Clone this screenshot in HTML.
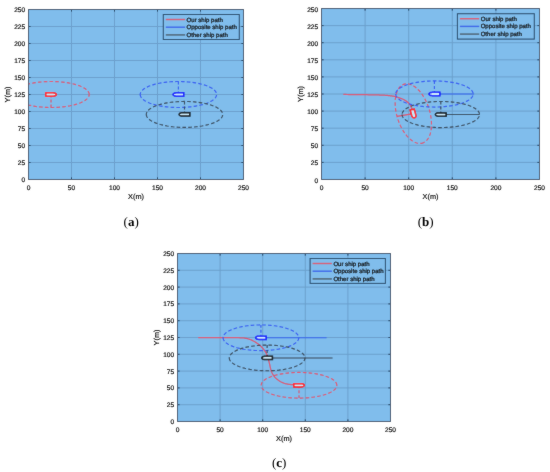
<!DOCTYPE html>
<html><head><meta charset="utf-8"><title>Ship paths</title>
<style>
html,body{margin:0;padding:0;background:#fff;}
body{width:550px;height:472px;overflow:hidden;}
svg{display:block;}
text{text-rendering:geometricPrecision;}
.tk{font-family:"Liberation Sans",Arial,sans-serif;font-size:6.6px;fill:#141414;stroke:#141414;stroke-width:0.2px;}
.lb{font-family:"Liberation Sans",Arial,sans-serif;font-size:7.3px;fill:#141414;stroke:#141414;stroke-width:0.2px;}
.lg{font-family:"Liberation Sans",Arial,sans-serif;font-size:6.0px;fill:#0d0d0d;stroke:#0d0d0d;stroke-width:0.2px;}
.cap{font-family:"Liberation Serif","Times New Roman",serif;font-size:13px;fill:#000;}
</style></head>
<body>
<svg width="550" height="472" viewBox="0 0 550 472">
<rect width="550" height="472" fill="#fff"/>
<defs>
<clipPath id="clipa"><rect x="28.5" y="9.5" width="215" height="170"/></clipPath>
<clipPath id="clipb"><rect x="321.5" y="8.5" width="218" height="171"/></clipPath>
<clipPath id="clipc"><rect x="177.5" y="253.5" width="213" height="168"/></clipPath>
<filter id="soft" x="0" y="0" width="550" height="472" filterUnits="userSpaceOnUse"><feConvolveMatrix order="3" kernelMatrix="1 2 1 2 28.0 2 1 2 1" divisor="40.0" edgeMode="duplicate" preserveAlpha="true"/></filter>
<filter id="softt" x="0" y="0" width="550" height="472" filterUnits="userSpaceOnUse"><feConvolveMatrix order="3" kernelMatrix="1 2 1 2 40.0 2 1 2 1" divisor="52.0" edgeMode="duplicate" preserveAlpha="false"/></filter>
</defs>
<g filter="url(#soft)">
<rect width="550" height="472" fill="#fff"/>
<rect x="28.5" y="9.5" width="215" height="170" fill="#80bdec"/>
<path d="M71.5 9.5V179.5M114.5 9.5V179.5M157.5 9.5V179.5M200.5 9.5V179.5M28.5 162.5H243.5M28.5 145.5H243.5M28.5 128.5H243.5M28.5 111.5H243.5M28.5 94.5H243.5M28.5 77.5H243.5M28.5 60.5H243.5M28.5 43.5H243.5M28.5 26.5H243.5" stroke="#6a9fcc" stroke-width="1" fill="none"/>
<rect x="321.5" y="8.5" width="218" height="171" fill="#80bdec"/>
<path d="M365.1 8.5V179.5M408.7 8.5V179.5M452.3 8.5V179.5M495.9 8.5V179.5M321.5 162.4H539.5M321.5 145.3H539.5M321.5 128.2H539.5M321.5 111.1H539.5M321.5 94H539.5M321.5 76.9H539.5M321.5 59.8H539.5M321.5 42.7H539.5M321.5 25.6H539.5" stroke="#6a9fcc" stroke-width="1" fill="none"/>
<rect x="177.5" y="253.5" width="213" height="168" fill="#80bdec"/>
<path d="M220.1 253.5V421.5M262.7 253.5V421.5M305.3 253.5V421.5M347.9 253.5V421.5M177.5 404.7H390.5M177.5 387.9H390.5M177.5 371.1H390.5M177.5 354.3H390.5M177.5 337.5H390.5M177.5 320.7H390.5M177.5 303.9H390.5M177.5 287.1H390.5M177.5 270.3H390.5" stroke="#6a9fcc" stroke-width="1" fill="none"/>
<path clip-path="url(#clipa)" d="M89.22 94.5L89.16 93.82L89.01 93.14L88.75 92.47L88.38 91.8L87.91 91.14L87.35 90.49L86.68 89.85L85.91 89.22L85.05 88.6L84.1 88.01L83.06 87.43L81.92 86.87L80.71 86.33L79.41 85.81L78.03 85.32L76.58 84.85L75.06 84.41L73.48 83.99L71.83 83.61L70.12 83.25L68.37 82.93L66.56 82.63L64.72 82.37L62.83 82.15L60.91 81.95L58.97 81.8L57.01 81.67L55.02 81.58L53.03 81.53L51.03 81.51L49.03 81.53L47.04 81.58L45.06 81.67L43.09 81.8L41.15 81.95L39.23 82.15L37.35 82.37L35.5 82.63L33.7 82.93L31.94 83.25L30.24 83.61L28.59 83.99L27 84.41L25.48 84.85L24.03 85.32L22.66 85.81L21.36 86.33L20.14 86.87L19.01 87.43L17.96 88.01L17.01 88.6L16.15 89.22L15.38 89.85L14.72 90.49L14.15 91.14L13.68 91.8L13.32 92.47L13.06 93.14L12.9 93.82L12.85 94.5L12.9 95.18L13.06 95.86L13.32 96.53L13.68 97.2L14.15 97.86L14.72 98.51L15.38 99.15L16.15 99.78L17.01 100.4L17.96 100.99L19.01 101.57L20.14 102.13L21.36 102.67L22.66 103.19L24.03 103.68L25.48 104.15L27 104.59L28.59 105.01L30.24 105.39L31.94 105.75L33.7 106.07L35.5 106.37L37.35 106.63L39.23 106.85L41.15 107.05L43.09 107.2L45.06 107.33L47.04 107.42L49.03 107.47L51.03 107.49L53.03 107.47L55.02 107.42L57.01 107.33L58.97 107.2L60.91 107.05L62.83 106.85L64.72 106.63L66.56 106.37L68.37 106.07L70.12 105.75L71.83 105.39L73.48 105.01L75.06 104.59L76.58 104.15L78.03 103.68L79.41 103.19L80.71 102.67L81.92 102.13L83.06 101.57L84.1 100.99L85.05 100.4L85.91 99.78L86.68 99.15L87.35 98.51L87.91 97.86L88.38 97.2L88.75 96.53L89.01 95.86L89.16 95.18L89.22 94.5Z" fill="none" stroke="#e04a62" stroke-width="1.15" stroke-dasharray="3.6 2.2"/>
<path d="M51.03 94.5L51.03 107.49" stroke="#e04a62" stroke-width="1.15" stroke-dasharray="3 2"/>
<path d="M45.7 96.13L53.27 96.13L53.81 96.1L54.3 96.04L54.74 95.95L55.13 95.83L55.46 95.68L55.74 95.51L55.98 95.3L56.16 95.06L56.29 94.8L56.36 94.5L56.29 94.2L56.16 93.94L55.98 93.7L55.74 93.49L55.46 93.32L55.13 93.17L54.74 93.05L54.3 92.96L53.81 92.9L53.27 92.87L45.7 92.87Z" fill="#c8e8fa" stroke="#ff0000" stroke-width="1.5" stroke-linejoin="miter"/>
<path clip-path="url(#clipa)" d="M140.21 94.5L140.27 95.18L140.42 95.86L140.68 96.53L141.05 97.2L141.52 97.86L142.08 98.51L142.75 99.15L143.52 99.78L144.38 100.4L145.33 100.99L146.37 101.57L147.51 102.13L148.72 102.67L150.02 103.19L151.4 103.68L152.85 104.15L154.37 104.59L155.95 105.01L157.6 105.39L159.31 105.75L161.06 106.07L162.87 106.37L164.71 106.63L166.6 106.85L168.52 107.05L170.46 107.2L172.42 107.33L174.41 107.42L176.4 107.47L178.4 107.49L180.4 107.47L182.39 107.42L184.37 107.33L186.34 107.2L188.28 107.05L190.2 106.85L192.08 106.63L193.93 106.37L195.73 106.07L197.49 105.75L199.19 105.39L200.84 105.01L202.43 104.59L203.95 104.15L205.4 103.68L206.77 103.19L208.07 102.67L209.29 102.13L210.42 101.57L211.47 100.99L212.42 100.4L213.28 99.78L214.05 99.15L214.71 98.51L215.28 97.86L215.75 97.2L216.11 96.53L216.37 95.86L216.53 95.18L216.58 94.5L216.53 93.82L216.37 93.14L216.11 92.47L215.75 91.8L215.28 91.14L214.71 90.49L214.05 89.85L213.28 89.22L212.42 88.6L211.47 88.01L210.42 87.43L209.29 86.87L208.07 86.33L206.77 85.81L205.4 85.32L203.95 84.85L202.43 84.41L200.84 83.99L199.19 83.61L197.49 83.25L195.73 82.93L193.93 82.63L192.08 82.37L190.2 82.15L188.28 81.95L186.34 81.8L184.37 81.67L182.39 81.58L180.4 81.53L178.4 81.51L176.4 81.53L174.41 81.58L172.42 81.67L170.46 81.8L168.52 81.95L166.6 82.15L164.71 82.37L162.87 82.63L161.06 82.93L159.31 83.25L157.6 83.61L155.95 83.99L154.37 84.41L152.85 84.85L151.4 85.32L150.02 85.81L148.72 86.33L147.51 86.87L146.37 87.43L145.33 88.01L144.38 88.6L143.52 89.22L142.75 89.85L142.08 90.49L141.52 91.14L141.05 91.8L140.68 92.47L140.42 93.14L140.27 93.82L140.21 94.5Z" fill="none" stroke="#3055f2" stroke-width="1.15" stroke-dasharray="3.6 2.2"/>
<path d="M178.4 94.5L178.4 81.51" stroke="#3055f2" stroke-width="1.15" stroke-dasharray="3 2"/>
<path d="M183.73 92.87L176.16 92.87L175.62 92.9L175.13 92.96L174.69 93.05L174.3 93.17L173.97 93.32L173.69 93.49L173.45 93.7L173.27 93.94L173.14 94.2L173.07 94.5L173.14 94.8L173.27 95.06L173.45 95.3L173.69 95.51L173.97 95.68L174.3 95.83L174.69 95.95L175.13 96.04L175.62 96.1L176.16 96.13L183.73 96.13Z" fill="#c8e8fa" stroke="#0000ff" stroke-width="1.5" stroke-linejoin="miter"/>
<path clip-path="url(#clipa)" d="M146.32 114.42L146.37 115.1L146.53 115.78L146.79 116.46L147.15 117.12L147.62 117.79L148.19 118.44L148.86 119.08L149.62 119.71L150.48 120.32L151.44 120.92L152.48 121.5L153.61 122.06L154.83 122.6L156.13 123.11L157.5 123.61L158.95 124.08L160.47 124.52L162.06 124.93L163.71 125.32L165.41 125.67L167.17 126L168.97 126.29L170.82 126.55L172.7 126.78L174.62 126.97L176.57 127.13L178.53 127.25L180.51 127.34L182.51 127.39L184.5 127.41L186.5 127.39L188.5 127.34L190.48 127.25L192.44 127.13L194.39 126.97L196.3 126.78L198.19 126.55L200.03 126.29L201.84 126L203.6 125.67L205.3 125.32L206.95 124.93L208.53 124.52L210.05 124.08L211.5 123.61L212.88 123.11L214.18 122.6L215.4 122.06L216.53 121.5L217.57 120.92L218.53 120.32L219.39 119.71L220.15 119.08L220.82 118.44L221.39 117.79L221.85 117.12L222.22 116.46L222.48 115.78L222.64 115.1L222.69 114.42L222.64 113.74L222.48 113.07L222.22 112.39L221.85 111.72L221.39 111.06L220.82 110.41L220.15 109.77L219.39 109.14L218.53 108.53L217.57 107.93L216.53 107.35L215.4 106.79L214.18 106.25L212.88 105.73L211.5 105.24L210.05 104.77L208.53 104.33L206.95 103.92L205.3 103.53L203.6 103.18L201.84 102.85L200.03 102.56L198.19 102.3L196.3 102.07L194.39 101.88L192.44 101.72L190.48 101.6L188.5 101.51L186.5 101.45L184.5 101.44L182.51 101.45L180.51 101.51L178.53 101.6L176.57 101.72L174.62 101.88L172.7 102.07L170.82 102.3L168.97 102.56L167.17 102.85L165.41 103.18L163.71 103.53L162.06 103.92L160.47 104.33L158.95 104.77L157.5 105.24L156.13 105.73L154.83 106.25L153.61 106.79L152.48 107.35L151.44 107.93L150.48 108.53L149.62 109.14L148.86 109.77L148.19 110.41L147.62 111.06L147.15 111.72L146.79 112.39L146.53 113.07L146.37 113.74L146.32 114.42Z" fill="none" stroke="#34404e" stroke-width="1.15" stroke-dasharray="3.6 2.2"/>
<path d="M184.5 114.42L184.5 101.44" stroke="#34404e" stroke-width="1.15" stroke-dasharray="3 2"/>
<path d="M189.84 112.79L182.27 112.79L181.73 112.82L181.24 112.88L180.8 112.97L180.41 113.09L180.07 113.24L179.79 113.42L179.56 113.63L179.38 113.86L179.25 114.13L179.17 114.42L179.25 114.72L179.38 114.99L179.56 115.22L179.79 115.43L180.07 115.61L180.41 115.76L180.8 115.87L181.24 115.96L181.73 116.02L182.27 116.06L189.84 116.06Z" fill="#c8e8fa" stroke="#000000" stroke-width="1.5" stroke-linejoin="miter"/>
<path d="M343.3 94.48L344.33 94.49L345.64 94.49L347.19 94.5L348.93 94.51L350.82 94.52L352.8 94.53L354.82 94.55L356.86 94.57L358.84 94.59L360.74 94.62L362.65 94.65L364.68 94.68L366.79 94.72L368.93 94.76L371.06 94.81L373.14 94.85L375.11 94.9L376.95 94.94L378.59 94.99L380.01 95.03L381.18 95.06L382.14 95.09L382.92 95.13L383.57 95.15L384.11 95.18L384.58 95.21L385.02 95.25L385.45 95.28L385.92 95.32L386.46 95.37L387.05 95.42L387.62 95.47L388.19 95.53L388.74 95.59L389.28 95.65L389.81 95.72L390.33 95.79L390.83 95.85L391.31 95.92L391.78 95.98L392.23 96.05L392.66 96.11L393.06 96.16L393.45 96.22L393.83 96.28L394.2 96.35L394.57 96.41L394.94 96.49L395.32 96.57L395.71 96.67L396.1 96.77L396.49 96.88L396.88 97L397.27 97.13L397.66 97.26L398.06 97.4L398.45 97.54L398.84 97.68L399.24 97.82L399.63 97.97L400.03 98.11L400.44 98.26L400.86 98.41L401.27 98.56L401.69 98.71L402.1 98.87L402.5 99.03L402.89 99.2L403.28 99.37L403.64 99.54L403.99 99.72L404.33 99.9L404.66 100.09L404.98 100.27L405.29 100.47L405.6 100.67L405.9 100.87L406.2 101.08L406.49 101.3L406.78 101.52L407.07 101.76L407.36 101.99L407.65 102.24L407.93 102.49L408.21 102.74L408.48 103L408.75 103.27L409 103.55L409.25 103.83L409.48 104.12L409.71 104.41L409.92 104.69L410.12 104.97L410.31 105.25L410.49 105.54L410.67 105.85L410.85 106.18L411.03 106.55L411.21 106.96L411.4 107.41L411.6 107.94L411.82 108.56L412.04 109.25L412.26 109.98L412.48 110.72L412.69 111.45L412.89 112.13L413.06 112.74L413.21 113.25L413.32 113.63" fill="none" stroke="#d9506a" stroke-width="1.25" stroke-linejoin="round"/>
<path d="M434.42 94L474.1 94" fill="none" stroke="#2f5cf0" stroke-width="1.1"/>
<path d="M440.79 114.52L479.77 114.52" fill="none" stroke="#34404c" stroke-width="1.1"/>
<path clip-path="url(#clipb)" d="M421.37 143.34L422.21 143.15L423.03 142.89L423.82 142.55L424.58 142.12L425.31 141.62L426.01 141.04L426.67 140.39L427.3 139.66L427.89 138.87L428.44 138L428.95 137.06L429.41 136.07L429.83 135.01L430.2 133.89L430.53 132.72L430.81 131.49L431.05 130.21L431.23 128.89L431.37 127.53L431.46 126.13L431.49 124.7L431.48 123.23L431.42 121.74L431.3 120.23L431.14 118.7L430.93 117.15L430.67 115.6L430.37 114.03L430.01 112.47L429.61 110.91L429.17 109.36L428.68 107.82L428.15 106.3L427.58 104.8L426.97 103.32L426.33 101.87L425.65 100.45L424.93 99.07L424.18 97.72L423.41 96.43L422.6 95.17L421.77 93.97L420.92 92.83L420.04 91.74L419.15 90.7L418.24 89.74L417.32 88.84L416.39 88L415.44 87.24L414.5 86.55L413.55 85.93L412.59 85.39L411.64 84.92L410.7 84.54L409.76 84.23L408.83 84.01L407.92 83.87L407.02 83.8L406.14 83.82L405.27 83.92L404.43 84.11L403.61 84.37L402.82 84.72L402.06 85.14L401.33 85.64L400.63 86.22L399.97 86.87L399.34 87.6L398.75 88.4L398.2 89.26L397.7 90.2L397.23 91.19L396.81 92.25L396.44 93.37L396.11 94.55L395.83 95.77L395.6 97.05L395.41 98.37L395.27 99.73L395.19 101.13L395.15 102.56L395.16 104.03L395.23 105.52L395.34 107.03L395.5 108.57L395.71 110.11L395.97 111.67L396.28 113.23L396.63 114.79L397.03 116.35L397.47 117.9L397.96 119.44L398.49 120.96L399.06 122.46L399.67 123.94L400.32 125.39L401 126.81L401.71 128.19L402.46 129.54L403.24 130.84L404.04 132.09L404.87 133.29L405.73 134.44L406.6 135.53L407.49 136.56L408.4 137.52L409.32 138.43L410.26 139.26L411.2 140.02L412.15 140.72L413.1 141.33L414.05 141.87L415 142.34L415.94 142.72L416.88 143.03L417.81 143.25L418.72 143.4L419.62 143.46L420.51 143.44L421.37 143.34Z" fill="none" stroke="#e04a62" stroke-width="1.15" stroke-dasharray="3.6 2.2"/>
<path d="M413.32 113.63L397.03 116.35" stroke="#e04a62" stroke-width="1.15"/>
<path d="M410.15 109.82L411.75 115.71L411.9 116.13L412.08 116.5L412.28 116.82L412.51 117.09L412.77 117.32L413.05 117.51L413.36 117.64L413.7 117.74L414.06 117.78L414.45 117.78L414.8 117.66L415.11 117.5L415.37 117.31L415.58 117.09L415.74 116.83L415.85 116.54L415.92 116.21L415.94 115.85L415.92 115.46L415.84 115.03L414.24 109.14Z" fill="#c8e8fa" stroke="#ff0000" stroke-width="1.5" stroke-linejoin="miter"/>
<path clip-path="url(#clipb)" d="M395.71 94L395.76 94.68L395.92 95.37L396.18 96.04L396.55 96.72L397.03 97.38L397.6 98.04L398.28 98.68L399.05 99.31L399.93 99.93L400.89 100.53L401.95 101.12L403.1 101.68L404.34 102.22L405.65 102.74L407.05 103.24L408.52 103.71L410.06 104.15L411.67 104.57L413.34 104.96L415.07 105.31L416.85 105.64L418.68 105.93L420.55 106.2L422.46 106.42L424.4 106.62L426.37 106.78L428.37 106.9L430.38 106.99L432.4 107.05L434.42 107.06L436.45 107.05L438.47 106.99L440.48 106.9L442.47 106.78L444.44 106.62L446.39 106.42L448.3 106.2L450.17 105.93L452 105.64L453.78 105.31L455.51 104.96L457.18 104.57L458.79 104.15L460.33 103.71L461.8 103.24L463.2 102.74L464.51 102.22L465.75 101.68L466.89 101.12L467.95 100.53L468.92 99.93L469.79 99.31L470.57 98.68L471.25 98.04L471.82 97.38L472.29 96.72L472.66 96.04L472.93 95.37L473.09 94.68L473.14 94L473.09 93.32L472.93 92.63L472.66 91.96L472.29 91.28L471.82 90.62L471.25 89.96L470.57 89.32L469.79 88.69L468.92 88.07L467.95 87.47L466.89 86.88L465.75 86.32L464.51 85.78L463.2 85.26L461.8 84.76L460.33 84.29L458.79 83.85L457.18 83.43L455.51 83.04L453.78 82.69L452 82.36L450.17 82.07L448.3 81.8L446.39 81.58L444.44 81.38L442.47 81.22L440.48 81.1L438.47 81.01L436.45 80.95L434.42 80.94L432.4 80.95L430.38 81.01L428.37 81.1L426.37 81.22L424.4 81.38L422.46 81.58L420.55 81.8L418.68 82.07L416.85 82.36L415.07 82.69L413.34 83.04L411.67 83.43L410.06 83.85L408.52 84.29L407.05 84.76L405.65 85.26L404.34 85.78L403.1 86.32L401.95 86.88L400.89 87.47L399.93 88.07L399.05 88.69L398.28 89.32L397.6 89.96L397.03 90.62L396.55 91.28L396.18 91.96L395.92 92.63L395.76 93.32L395.71 94Z" fill="none" stroke="#3055f2" stroke-width="1.15" stroke-dasharray="3.6 2.2"/>
<path d="M434.42 94L434.42 80.94" stroke="#3055f2" stroke-width="1.15" stroke-dasharray="3 2"/>
<path d="M439.83 92.36L432.16 92.36L431.61 92.39L431.11 92.45L430.67 92.54L430.27 92.66L429.93 92.81L429.65 92.99L429.41 93.2L429.23 93.44L429.1 93.7L429.02 94L429.1 94.3L429.23 94.56L429.41 94.8L429.65 95.01L429.93 95.19L430.27 95.34L430.67 95.46L431.11 95.55L431.61 95.61L432.16 95.64L439.83 95.64Z" fill="#c8e8fa" stroke="#0000ff" stroke-width="1.5" stroke-linejoin="miter"/>
<path clip-path="url(#clipb)" d="M402.07 114.52L402.13 115.2L402.28 115.89L402.55 116.56L402.92 117.24L403.39 117.9L403.97 118.56L404.64 119.2L405.42 119.83L406.29 120.45L407.26 121.05L408.32 121.64L409.47 122.2L410.7 122.74L412.02 123.26L413.41 123.76L414.88 124.23L416.42 124.67L418.03 125.09L419.7 125.48L421.43 125.83L423.21 126.16L425.04 126.45L426.91 126.72L428.83 126.94L430.77 127.14L432.74 127.3L434.73 127.42L436.74 127.51L438.76 127.57L440.79 127.58L442.82 127.57L444.84 127.51L446.85 127.42L448.84 127.3L450.81 127.14L452.75 126.94L454.66 126.72L456.54 126.45L458.37 126.16L460.15 125.83L461.88 125.48L463.55 125.09L465.15 124.67L466.7 124.23L468.17 123.76L469.56 123.26L470.88 122.74L472.11 122.2L473.26 121.64L474.32 121.05L475.29 120.45L476.16 119.83L476.93 119.2L477.61 118.56L478.19 117.9L478.66 117.24L479.03 116.56L479.29 115.89L479.45 115.2L479.51 114.52L479.45 113.84L479.29 113.15L479.03 112.48L478.66 111.8L478.19 111.14L477.61 110.48L476.93 109.84L476.16 109.21L475.29 108.59L474.32 107.99L473.26 107.4L472.11 106.84L470.88 106.3L469.56 105.78L468.17 105.28L466.7 104.81L465.15 104.37L463.55 103.95L461.88 103.56L460.15 103.21L458.37 102.88L456.54 102.59L454.66 102.32L452.75 102.1L450.81 101.9L448.84 101.74L446.85 101.62L444.84 101.53L442.82 101.47L440.79 101.46L438.76 101.47L436.74 101.53L434.73 101.62L432.74 101.74L430.77 101.9L428.83 102.1L426.91 102.32L425.04 102.59L423.21 102.88L421.43 103.21L419.7 103.56L418.03 103.95L416.42 104.37L414.88 104.81L413.41 105.28L412.02 105.78L410.7 106.3L409.47 106.84L408.32 107.4L407.26 107.99L406.29 108.59L405.42 109.21L404.64 109.84L403.97 110.48L403.39 111.14L402.92 111.8L402.55 112.48L402.28 113.15L402.13 113.84L402.07 114.52Z" fill="none" stroke="#34404e" stroke-width="1.15" stroke-dasharray="3.6 2.2"/>
<path d="M440.79 114.52L440.79 101.46" stroke="#34404e" stroke-width="1.15" stroke-dasharray="3 2"/>
<path d="M446.2 112.88L438.52 112.88L437.97 112.91L437.48 112.97L437.03 113.06L436.64 113.18L436.3 113.33L436.01 113.51L435.78 113.72L435.59 113.96L435.46 114.22L435.38 114.52L435.46 114.82L435.59 115.08L435.78 115.32L436.01 115.53L436.3 115.71L436.64 115.86L437.03 115.98L437.48 116.07L437.97 116.13L438.52 116.16L446.2 116.16Z" fill="#c8e8fa" stroke="#000000" stroke-width="1.5" stroke-linejoin="miter"/>
<path d="M198.2 337.5L199.52 337.5L201.21 337.51L203.22 337.51L205.48 337.52L207.91 337.52L210.43 337.53L212.99 337.54L215.5 337.54L217.89 337.55L220.1 337.57L222.24 337.58L224.45 337.6L226.69 337.61L228.93 337.63L231.12 337.65L233.23 337.67L235.21 337.69L237.04 337.71L238.66 337.74L240.04 337.77L241.14 337.8L242 337.82L242.64 337.85L243.12 337.87L243.48 337.9L243.76 337.93L244.02 337.98L244.29 338.03L244.62 338.09L245.06 338.17L245.57 338.26L246.08 338.36L246.59 338.47L247.1 338.58L247.61 338.71L248.13 338.85L248.64 338.99L249.15 339.15L249.66 339.33L250.18 339.52L250.69 339.72L251.21 339.94L251.74 340.18L252.27 340.43L252.79 340.69L253.31 340.96L253.82 341.24L254.33 341.51L254.81 341.79L255.29 342.07L255.75 342.35L256.19 342.63L256.63 342.91L257.06 343.2L257.48 343.5L257.89 343.8L258.3 344.1L258.69 344.4L259.08 344.71L259.46 345.03L259.84 345.35L260.21 345.67L260.57 346L260.92 346.34L261.27 346.68L261.61 347.02L261.93 347.36L262.26 347.7L262.57 348.05L262.87 348.39L263.16 348.73L263.45 349.07L263.73 349.41L264 349.76L264.25 350.1L264.51 350.44L264.75 350.79L264.98 351.13L265.21 351.47L265.43 351.81L265.63 352.15L265.83 352.48L266.01 352.8L266.19 353.12L266.36 353.44L266.52 353.77L266.68 354.1L266.83 354.45L266.98 354.8L267.13 355.17L267.28 355.56L267.41 355.95L267.55 356.35L267.67 356.76L267.8 357.18L267.92 357.61L268.04 358.05L268.16 358.49L268.28 358.94L268.41 359.41L268.54 359.89L268.67 360.39L268.81 360.91L268.94 361.45L269.07 361.98L269.21 362.52L269.33 363.04L269.46 363.56L269.58 364.05L269.69 364.51L269.79 364.95L269.87 365.36L269.95 365.76L270.03 366.14L270.1 366.51L270.18 366.88L270.25 367.25L270.34 367.63L270.43 368.01L270.54 368.41L270.66 368.83L270.78 369.26L270.9 369.69L271.04 370.13L271.18 370.57L271.32 371.02L271.48 371.45L271.64 371.88L271.81 372.31L271.99 372.71L272.17 373.11L272.37 373.5L272.57 373.89L272.78 374.27L273 374.65L273.23 375.02L273.46 375.38L273.7 375.73L273.95 376.07L274.2 376.41L274.46 376.73L274.73 377.04L275 377.35L275.28 377.64L275.57 377.93L275.86 378.21L276.16 378.49L276.46 378.76L276.78 379.03L277.1 379.3L277.43 379.57L277.76 379.83L278.1 380.1L278.44 380.36L278.79 380.61L279.15 380.86L279.52 381.11L279.9 381.34L280.28 381.57L280.68 381.78L281.09 381.99L281.51 382.2L281.94 382.39L282.39 382.58L282.84 382.76L283.29 382.93L283.75 383.1L284.21 383.25L284.66 383.4L285.11 383.53L285.55 383.66L286.01 383.77L286.46 383.88L286.92 383.97L287.38 384.06L287.83 384.14L288.27 384.22L288.71 384.28L289.13 384.35L289.54 384.41L289.92 384.46L290.27 384.49L290.6 384.52L290.92 384.54L291.24 384.56L291.56 384.57L291.9 384.59L292.27 384.61L292.67 384.64L293.12 384.67L293.64 384.72L294.24 384.78L294.9 384.85L295.58 384.92L296.28 384.99L296.96 385.06L297.59 385.13L298.16 385.19L298.64 385.24L299 385.28" fill="none" stroke="#d9506a" stroke-width="1.25" stroke-linejoin="round"/>
<path d="M260.91 337.77L326.6 337.77" fill="none" stroke="#2f5cf0" stroke-width="1.1"/>
<path d="M267.13 357.93L332.56 357.93" fill="none" stroke="#34404c" stroke-width="1.1"/>
<path clip-path="url(#clipc)" d="M336.82 385.28L336.77 384.61L336.62 383.94L336.36 383.27L336 382.61L335.54 381.96L334.97 381.31L334.31 380.68L333.55 380.06L332.7 379.45L331.76 378.86L330.72 378.29L329.6 377.73L328.39 377.2L327.11 376.69L325.74 376.2L324.31 375.74L322.8 375.3L321.23 374.9L319.6 374.51L317.91 374.16L316.17 373.84L314.38 373.55L312.55 373.3L310.68 373.07L308.79 372.88L306.86 372.72L304.91 372.6L302.95 372.51L300.98 372.46L299 372.44L297.02 372.46L295.04 372.51L293.08 372.6L291.13 372.72L289.2 372.88L287.31 373.07L285.44 373.3L283.61 373.55L281.82 373.84L280.08 374.16L278.39 374.51L276.76 374.9L275.19 375.3L273.68 375.74L272.25 376.2L270.88 376.69L269.6 377.2L268.39 377.73L267.27 378.29L266.23 378.86L265.29 379.45L264.44 380.06L263.68 380.68L263.02 381.31L262.46 381.96L261.99 382.61L261.63 383.27L261.37 383.94L261.22 384.61L261.17 385.28L261.22 385.95L261.37 386.62L261.63 387.29L261.99 387.95L262.46 388.6L263.02 389.25L263.68 389.88L264.44 390.5L265.29 391.11L266.23 391.7L267.27 392.27L268.39 392.82L269.6 393.36L270.88 393.87L272.25 394.36L273.68 394.82L275.19 395.25L276.76 395.66L278.39 396.04L280.08 396.39L281.82 396.72L283.61 397L285.44 397.26L287.31 397.49L289.2 397.68L291.13 397.83L293.08 397.96L295.04 398.04L297.02 398.1L299 398.11L300.98 398.1L302.95 398.04L304.91 397.96L306.86 397.83L308.79 397.68L310.68 397.49L312.55 397.26L314.38 397L316.17 396.72L317.91 396.39L319.6 396.04L321.23 395.66L322.8 395.25L324.31 394.82L325.74 394.36L327.11 393.87L328.39 393.36L329.6 392.82L330.72 392.27L331.76 391.7L332.7 391.11L333.55 390.5L334.31 389.88L334.97 389.25L335.54 388.6L336 387.95L336.36 387.29L336.62 386.62L336.77 385.95L336.82 385.28Z" fill="none" stroke="#e04a62" stroke-width="1.15" stroke-dasharray="3.6 2.2"/>
<path d="M299 385.28L299 398.11" stroke="#e04a62" stroke-width="1.15" stroke-dasharray="3 2"/>
<path d="M293.71 386.89L301.21 386.89L301.75 386.86L302.23 386.8L302.67 386.71L303.05 386.6L303.38 386.45L303.66 386.27L303.89 386.07L304.07 385.83L304.2 385.57L304.28 385.28L304.2 384.99L304.07 384.72L303.89 384.49L303.66 384.29L303.38 384.11L303.05 383.96L302.67 383.85L302.23 383.76L301.75 383.7L301.21 383.67L293.71 383.67Z" fill="#c8e8fa" stroke="#ff0000" stroke-width="1.5" stroke-linejoin="miter"/>
<path clip-path="url(#clipc)" d="M223.08 337.77L223.13 338.44L223.29 339.11L223.55 339.78L223.91 340.44L224.37 341.09L224.93 341.74L225.59 342.37L226.35 342.99L227.21 343.6L228.15 344.19L229.18 344.76L230.31 345.31L231.51 345.85L232.8 346.36L234.16 346.84L235.6 347.31L237.1 347.74L238.68 348.15L240.31 348.53L242 348.88L243.74 349.21L245.52 349.49L247.35 349.75L249.22 349.98L251.12 350.17L253.05 350.32L254.99 350.45L256.96 350.53L258.93 350.59L260.91 350.6L262.89 350.59L264.86 350.53L266.83 350.45L268.78 350.32L270.7 350.17L272.6 349.98L274.47 349.75L276.3 349.49L278.08 349.21L279.83 348.88L281.51 348.53L283.15 348.15L284.72 347.74L286.22 347.31L287.66 346.84L289.02 346.36L290.31 345.85L291.51 345.31L292.64 344.76L293.67 344.19L294.62 343.6L295.47 342.99L296.23 342.37L296.89 341.74L297.45 341.09L297.91 340.44L298.27 339.78L298.53 339.11L298.69 338.44L298.74 337.77L298.69 337.1L298.53 336.43L298.27 335.76L297.91 335.1L297.45 334.45L296.89 333.8L296.23 333.17L295.47 332.55L294.62 331.94L293.67 331.35L292.64 330.78L291.51 330.22L290.31 329.69L289.02 329.18L287.66 328.69L286.22 328.23L284.72 327.79L283.15 327.38L281.51 327L279.83 326.65L278.08 326.33L276.3 326.04L274.47 325.79L272.6 325.56L270.7 325.37L268.78 325.21L266.83 325.09L264.86 325L262.89 324.95L260.91 324.93L258.93 324.95L256.96 325L254.99 325.09L253.05 325.21L251.12 325.37L249.22 325.56L247.35 325.79L245.52 326.04L243.74 326.33L242 326.65L240.31 327L238.68 327.38L237.1 327.79L235.6 328.23L234.16 328.69L232.8 329.18L231.51 329.69L230.31 330.22L229.18 330.78L228.15 331.35L227.21 331.94L226.35 332.55L225.59 333.17L224.93 333.8L224.37 334.45L223.91 335.1L223.55 335.76L223.29 336.43L223.13 337.1L223.08 337.77Z" fill="none" stroke="#3055f2" stroke-width="1.15" stroke-dasharray="3.6 2.2"/>
<path d="M260.91 337.77L260.91 324.93" stroke="#3055f2" stroke-width="1.15" stroke-dasharray="3 2"/>
<path d="M266.19 336.16L258.7 336.16L258.16 336.19L257.67 336.25L257.24 336.34L256.86 336.45L256.52 336.6L256.24 336.78L256.01 336.98L255.83 337.21L255.71 337.48L255.63 337.77L255.71 338.06L255.83 338.32L256.01 338.56L256.24 338.76L256.52 338.94L256.86 339.08L257.24 339.2L257.67 339.29L258.16 339.35L258.7 339.38L266.19 339.38Z" fill="#c8e8fa" stroke="#0000ff" stroke-width="1.5" stroke-linejoin="miter"/>
<path clip-path="url(#clipc)" d="M229.3 357.93L229.35 358.6L229.51 359.27L229.77 359.94L230.13 360.6L230.59 361.25L231.15 361.9L231.81 362.53L232.57 363.15L233.42 363.76L234.37 364.35L235.4 364.92L236.53 365.47L237.73 366.01L239.02 366.52L240.38 367L241.82 367.47L243.32 367.9L244.9 368.31L246.53 368.69L248.22 369.04L249.96 369.37L251.74 369.65L253.57 369.91L255.44 370.14L257.34 370.33L259.27 370.48L261.21 370.61L263.18 370.69L265.15 370.75L267.13 370.76L269.11 370.75L271.08 370.69L273.05 370.61L275 370.48L276.92 370.33L278.82 370.14L280.69 369.91L282.52 369.65L284.3 369.37L286.04 369.04L287.73 368.69L289.37 368.31L290.94 367.9L292.44 367.47L293.88 367L295.24 366.52L296.53 366.01L297.73 365.47L298.86 364.92L299.89 364.35L300.84 363.76L301.69 363.15L302.45 362.53L303.11 361.9L303.67 361.25L304.13 360.6L304.49 359.94L304.75 359.27L304.91 358.6L304.96 357.93L304.91 357.26L304.75 356.59L304.49 355.92L304.13 355.26L303.67 354.61L303.11 353.96L302.45 353.33L301.69 352.71L300.84 352.1L299.89 351.51L298.86 350.94L297.73 350.38L296.53 349.85L295.24 349.34L293.88 348.85L292.44 348.39L290.94 347.95L289.37 347.54L287.73 347.16L286.04 346.81L284.3 346.49L282.52 346.2L280.69 345.95L278.82 345.72L276.92 345.53L275 345.37L273.05 345.25L271.08 345.16L269.11 345.11L267.13 345.09L265.15 345.11L263.18 345.16L261.21 345.25L259.27 345.37L257.34 345.53L255.44 345.72L253.57 345.95L251.74 346.2L249.96 346.49L248.22 346.81L246.53 347.16L244.9 347.54L243.32 347.95L241.82 348.39L240.38 348.85L239.02 349.34L237.73 349.85L236.53 350.38L235.4 350.94L234.37 351.51L233.42 352.1L232.57 352.71L231.81 353.33L231.15 353.96L230.59 354.61L230.13 355.26L229.77 355.92L229.51 356.59L229.35 357.26L229.3 357.93Z" fill="none" stroke="#34404e" stroke-width="1.15" stroke-dasharray="3.6 2.2"/>
<path d="M267.13 357.93L267.13 345.09" stroke="#34404e" stroke-width="1.15" stroke-dasharray="3 2"/>
<path d="M272.41 356.32L264.92 356.32L264.38 356.35L263.89 356.41L263.46 356.5L263.07 356.61L262.74 356.76L262.46 356.94L262.23 357.14L262.05 357.37L261.92 357.64L261.85 357.93L261.92 358.22L262.05 358.48L262.23 358.72L262.46 358.92L262.74 359.1L263.07 359.24L263.46 359.36L263.89 359.45L264.38 359.51L264.92 359.54L272.41 359.54Z" fill="#c8e8fa" stroke="#000000" stroke-width="1.5" stroke-linejoin="miter"/>
<path d="M28.5 179.5v-2.2M28.5 9.5v2.2M71.5 179.5v-2.2M71.5 9.5v2.2M114.5 179.5v-2.2M114.5 9.5v2.2M157.5 179.5v-2.2M157.5 9.5v2.2M200.5 179.5v-2.2M200.5 9.5v2.2M243.5 179.5v-2.2M243.5 9.5v2.2M28.5 179.5h2.2M243.5 179.5h-2.2M28.5 162.5h2.2M243.5 162.5h-2.2M28.5 145.5h2.2M243.5 145.5h-2.2M28.5 128.5h2.2M243.5 128.5h-2.2M28.5 111.5h2.2M243.5 111.5h-2.2M28.5 94.5h2.2M243.5 94.5h-2.2M28.5 77.5h2.2M243.5 77.5h-2.2M28.5 60.5h2.2M243.5 60.5h-2.2M28.5 43.5h2.2M243.5 43.5h-2.2M28.5 26.5h2.2M243.5 26.5h-2.2M28.5 9.5h2.2M243.5 9.5h-2.2" stroke="#1d3f60" stroke-width="1" fill="none"/>
<rect x="28.5" y="9.5" width="215" height="170" fill="none" stroke="#1d3f60" stroke-width="1"/>
<path d="M321.5 179.5v-2.2M321.5 8.5v2.2M365.1 179.5v-2.2M365.1 8.5v2.2M408.7 179.5v-2.2M408.7 8.5v2.2M452.3 179.5v-2.2M452.3 8.5v2.2M495.9 179.5v-2.2M495.9 8.5v2.2M539.5 179.5v-2.2M539.5 8.5v2.2M321.5 179.5h2.2M539.5 179.5h-2.2M321.5 162.4h2.2M539.5 162.4h-2.2M321.5 145.3h2.2M539.5 145.3h-2.2M321.5 128.2h2.2M539.5 128.2h-2.2M321.5 111.1h2.2M539.5 111.1h-2.2M321.5 94h2.2M539.5 94h-2.2M321.5 76.9h2.2M539.5 76.9h-2.2M321.5 59.8h2.2M539.5 59.8h-2.2M321.5 42.7h2.2M539.5 42.7h-2.2M321.5 25.6h2.2M539.5 25.6h-2.2M321.5 8.5h2.2M539.5 8.5h-2.2" stroke="#1d3f60" stroke-width="1" fill="none"/>
<rect x="321.5" y="8.5" width="218" height="171" fill="none" stroke="#1d3f60" stroke-width="1"/>
<path d="M177.5 421.5v-2.2M177.5 253.5v2.2M220.1 421.5v-2.2M220.1 253.5v2.2M262.7 421.5v-2.2M262.7 253.5v2.2M305.3 421.5v-2.2M305.3 253.5v2.2M347.9 421.5v-2.2M347.9 253.5v2.2M390.5 421.5v-2.2M390.5 253.5v2.2M177.5 421.5h2.2M390.5 421.5h-2.2M177.5 404.7h2.2M390.5 404.7h-2.2M177.5 387.9h2.2M390.5 387.9h-2.2M177.5 371.1h2.2M390.5 371.1h-2.2M177.5 354.3h2.2M390.5 354.3h-2.2M177.5 337.5h2.2M390.5 337.5h-2.2M177.5 320.7h2.2M390.5 320.7h-2.2M177.5 303.9h2.2M390.5 303.9h-2.2M177.5 287.1h2.2M390.5 287.1h-2.2M177.5 270.3h2.2M390.5 270.3h-2.2M177.5 253.5h2.2M390.5 253.5h-2.2" stroke="#1d3f60" stroke-width="1" fill="none"/>
<rect x="177.5" y="253.5" width="213" height="168" fill="none" stroke="#1d3f60" stroke-width="1"/>
<rect x="163.3" y="14.5" width="76" height="25" fill="#80bdec" stroke="#1d3f60" stroke-width="1"/>
<path d="M165.8 19.5H185.1" stroke="#d9566a" stroke-width="1.4"/>
<path d="M165.8 27.2H185.1" stroke="#3a62ea" stroke-width="1.4"/>
<path d="M165.8 34.9H185.1" stroke="#4a5a6a" stroke-width="1.4"/>
<rect x="457.4" y="13.7" width="76.9" height="25.4" fill="#80bdec" stroke="#1d3f60" stroke-width="1"/>
<path d="M459.9 18.7H479.2" stroke="#d9566a" stroke-width="1.4"/>
<path d="M459.9 26.4H479.2" stroke="#3a62ea" stroke-width="1.4"/>
<path d="M459.9 34.1H479.2" stroke="#4a5a6a" stroke-width="1.4"/>
<rect x="310.1" y="258.5" width="75.3" height="24.9" fill="#80bdec" stroke="#1d3f60" stroke-width="1"/>
<path d="M312.6 263.5H331.9" stroke="#d9566a" stroke-width="1.4"/>
<path d="M312.6 271.2H331.9" stroke="#3a62ea" stroke-width="1.4"/>
<path d="M312.6 278.9H331.9" stroke="#4a5a6a" stroke-width="1.4"/>
</g>
<g filter="url(#softt)">
<text x="25.2" y="181.7" class="tk" text-anchor="end">0</text>
<text x="25.2" y="164.7" class="tk" text-anchor="end">25</text>
<text x="25.2" y="147.7" class="tk" text-anchor="end">50</text>
<text x="25.2" y="130.7" class="tk" text-anchor="end">75</text>
<text x="25.2" y="113.7" class="tk" text-anchor="end">100</text>
<text x="25.2" y="96.7" class="tk" text-anchor="end">125</text>
<text x="25.2" y="79.7" class="tk" text-anchor="end">150</text>
<text x="25.2" y="62.7" class="tk" text-anchor="end">175</text>
<text x="25.2" y="45.7" class="tk" text-anchor="end">200</text>
<text x="25.2" y="28.7" class="tk" text-anchor="end">225</text>
<text x="25.2" y="11.7" class="tk" text-anchor="end">250</text>
<text x="28.5" y="189.5" class="tk" text-anchor="middle">0</text>
<text x="71.5" y="189.5" class="tk" text-anchor="middle">50</text>
<text x="114.5" y="189.5" class="tk" text-anchor="middle">100</text>
<text x="157.5" y="189.5" class="tk" text-anchor="middle">150</text>
<text x="200.5" y="189.5" class="tk" text-anchor="middle">200</text>
<text x="243.5" y="189.5" class="tk" text-anchor="middle">250</text>
<text x="136" y="199" class="lb" text-anchor="middle">X(m)</text>
<text transform="translate(7.6 94.5) rotate(-90)" class="lb" text-anchor="middle" y="2.5">Y(m)</text>
<text x="318.2" y="182.5" class="tk" text-anchor="end">0</text>
<text x="318.2" y="165.4" class="tk" text-anchor="end">25</text>
<text x="318.2" y="148.3" class="tk" text-anchor="end">50</text>
<text x="318.2" y="131.2" class="tk" text-anchor="end">75</text>
<text x="318.2" y="114.1" class="tk" text-anchor="end">100</text>
<text x="318.2" y="97" class="tk" text-anchor="end">125</text>
<text x="318.2" y="79.9" class="tk" text-anchor="end">150</text>
<text x="318.2" y="62.8" class="tk" text-anchor="end">175</text>
<text x="318.2" y="45.7" class="tk" text-anchor="end">200</text>
<text x="318.2" y="28.6" class="tk" text-anchor="end">225</text>
<text x="318.2" y="11.5" class="tk" text-anchor="end">250</text>
<text x="321.5" y="190" class="tk" text-anchor="middle">0</text>
<text x="365.1" y="190" class="tk" text-anchor="middle">50</text>
<text x="408.7" y="190" class="tk" text-anchor="middle">100</text>
<text x="452.3" y="190" class="tk" text-anchor="middle">150</text>
<text x="495.9" y="190" class="tk" text-anchor="middle">200</text>
<text x="539.5" y="190" class="tk" text-anchor="middle">250</text>
<text x="430.5" y="199" class="lb" text-anchor="middle">X(m)</text>
<text transform="translate(300.6 94) rotate(-90)" class="lb" text-anchor="middle" y="2.5">Y(m)</text>
<text x="174.2" y="423.9" class="tk" text-anchor="end">0</text>
<text x="174.2" y="407.1" class="tk" text-anchor="end">25</text>
<text x="174.2" y="390.3" class="tk" text-anchor="end">50</text>
<text x="174.2" y="373.5" class="tk" text-anchor="end">75</text>
<text x="174.2" y="356.7" class="tk" text-anchor="end">100</text>
<text x="174.2" y="339.9" class="tk" text-anchor="end">125</text>
<text x="174.2" y="323.1" class="tk" text-anchor="end">150</text>
<text x="174.2" y="306.3" class="tk" text-anchor="end">175</text>
<text x="174.2" y="289.5" class="tk" text-anchor="end">200</text>
<text x="174.2" y="272.7" class="tk" text-anchor="end">225</text>
<text x="174.2" y="255.9" class="tk" text-anchor="end">250</text>
<text x="177.5" y="431.5" class="tk" text-anchor="middle">0</text>
<text x="220.1" y="431.5" class="tk" text-anchor="middle">50</text>
<text x="262.7" y="431.5" class="tk" text-anchor="middle">100</text>
<text x="305.3" y="431.5" class="tk" text-anchor="middle">150</text>
<text x="347.9" y="431.5" class="tk" text-anchor="middle">200</text>
<text x="390.5" y="431.5" class="tk" text-anchor="middle">250</text>
<text x="284" y="441" class="lb" text-anchor="middle">X(m)</text>
<text transform="translate(156.6 337.5) rotate(-90)" class="lb" text-anchor="middle" y="2.5">Y(m)</text>
<text x="186.6" y="21.5" class="lg" textLength="36.2" lengthAdjust="spacingAndGlyphs">Our ship path</text>
<text x="186.6" y="29.2" class="lg" textLength="50.2" lengthAdjust="spacingAndGlyphs">Opposite ship path</text>
<text x="186.6" y="36.9" class="lg" textLength="41.2" lengthAdjust="spacingAndGlyphs">Other ship path</text>
<text x="480.7" y="20.7" class="lg" textLength="36.2" lengthAdjust="spacingAndGlyphs">Our ship path</text>
<text x="480.7" y="28.4" class="lg" textLength="50.2" lengthAdjust="spacingAndGlyphs">Opposite ship path</text>
<text x="480.7" y="36.1" class="lg" textLength="41.2" lengthAdjust="spacingAndGlyphs">Other ship path</text>
<text x="333.4" y="265.5" class="lg" textLength="36.2" lengthAdjust="spacingAndGlyphs">Our ship path</text>
<text x="333.4" y="273.2" class="lg" textLength="50.2" lengthAdjust="spacingAndGlyphs">Opposite ship path</text>
<text x="333.4" y="280.9" class="lg" textLength="41.2" lengthAdjust="spacingAndGlyphs">Other ship path</text>
<text x="131.2" y="226" class="cap" text-anchor="middle">(<tspan font-weight="bold">a</tspan>)</text>
<text x="425.7" y="226" class="cap" text-anchor="middle">(<tspan font-weight="bold">b</tspan>)</text>
<text x="279.2" y="466.5" class="cap" text-anchor="middle">(<tspan font-weight="bold">c</tspan>)</text>
</g>
</svg>
</body></html>
